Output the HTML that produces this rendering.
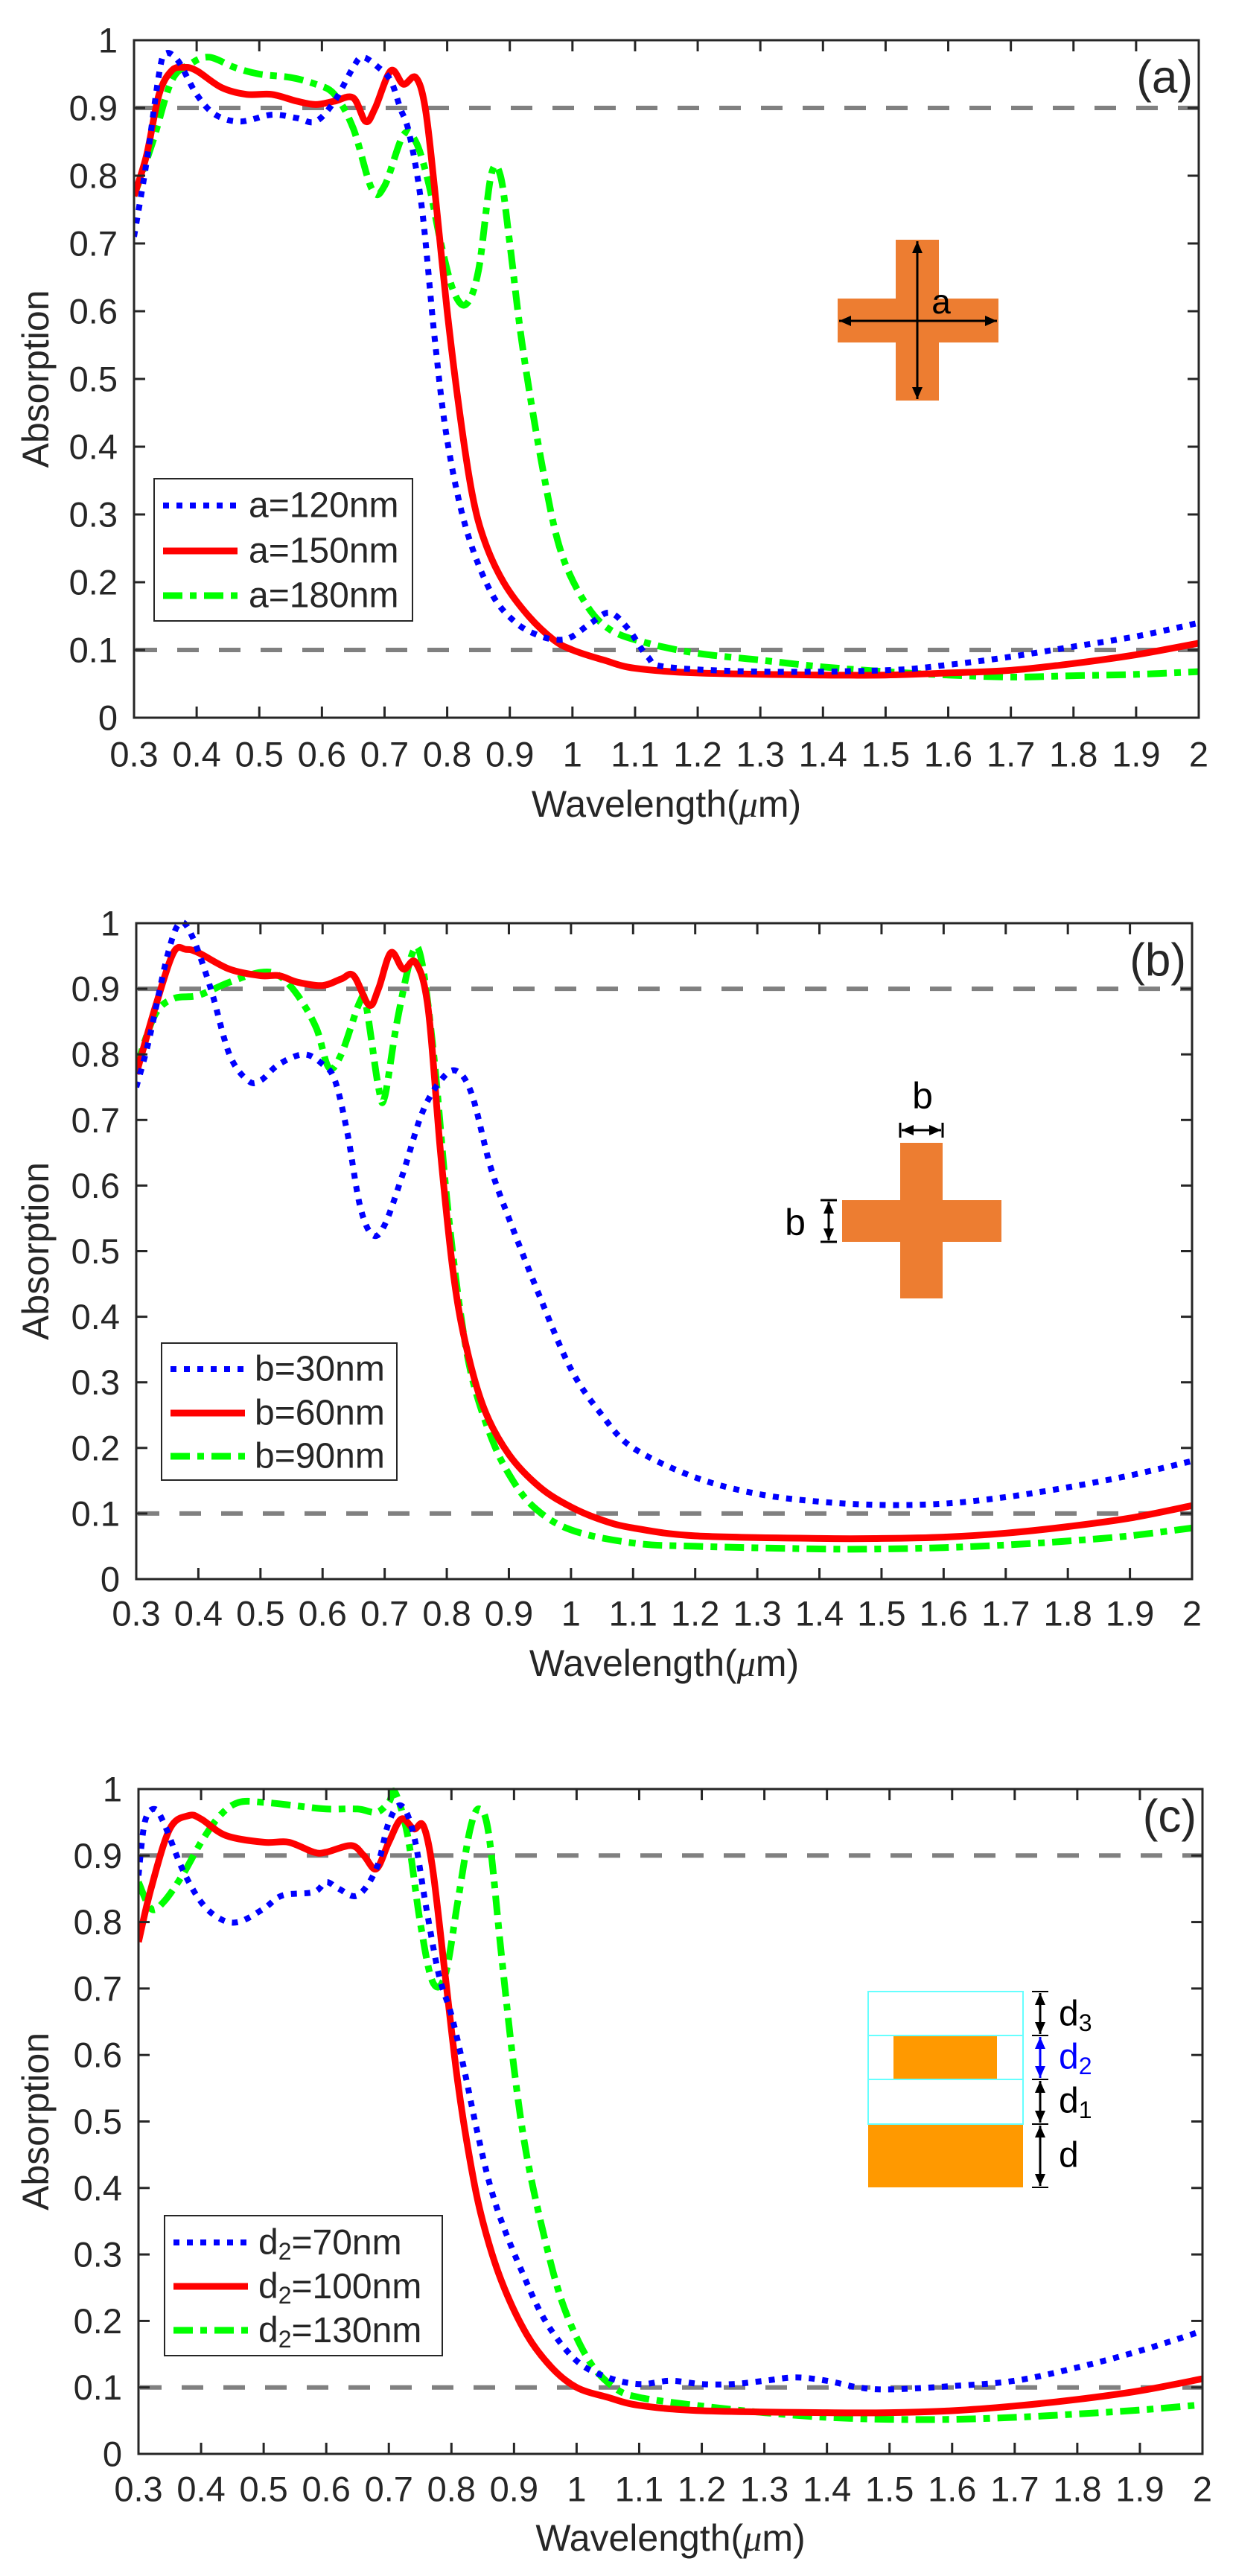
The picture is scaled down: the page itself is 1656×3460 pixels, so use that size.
<!DOCTYPE html>
<html><head><meta charset="utf-8"><style>
html,body{margin:0;padding:0;background:#fff;}
svg{display:block;}
text{font-family:"Liberation Sans",Arial,sans-serif;fill:#262626;}
</style></head><body>
<svg id="s" width="1656" height="3460" viewBox="0 0 1656 3460" xmlns="http://www.w3.org/2000/svg"></svg>
<script>
const S=document.getElementById('s');
let out='';
function crPath(pts){
  let d='M'+pts[0][0].toFixed(1)+','+pts[0][1].toFixed(1);
  for(let i=0;i<pts.length-1;i++){
    const p0=pts[Math.max(0,i-1)],p1=pts[i],p2=pts[i+1],p3=pts[Math.min(pts.length-1,i+2)];
    const c1=[p1[0]+(p2[0]-p0[0])/6,p1[1]+(p2[1]-p0[1])/6];
    const c2=[p2[0]-(p3[0]-p1[0])/6,p2[1]-(p3[1]-p1[1])/6];
    d+=' C'+c1[0].toFixed(1)+','+c1[1].toFixed(1)+' '+c2[0].toFixed(1)+','+c2[1].toFixed(1)+' '+p2[0].toFixed(1)+','+p2[1].toFixed(1);
  }
  return d;
}
const styles={
 b:'stroke="#0000ff" stroke-width="8" fill="none" stroke-dasharray="8 10"',
 r:'stroke="#ff0000" stroke-width="9" fill="none" stroke-linejoin="round"',
 g:'stroke="#00ff00" stroke-width="9" fill="none" stroke-dasharray="26 10 9 10"'
};
function panel(P){
  const {L,R,T,B}=P;
  const X=v=>L+(v-0.3)/1.7*(R-L), Y=v=>B-v*(B-T);
  let o='';
  [0.9,0.1].forEach(v=>{o+=`<line x1="${L+2}" x2="${R}" y1="${Y(v)}" y2="${Y(v)}" stroke="#808080" stroke-width="6" stroke-dasharray="29 27"/>`;});
  o+=`<clipPath id="c${P.id}"><rect x="${L}" y="${T-15}" width="${R-L}" height="${B-T+15}"/></clipPath>`;
  o+=`<g clip-path="url(#c${P.id})">`;
  ['g','r','b'].forEach(k=>{ if(P[k]) o+=`<path d="${crPath(P[k].map(p=>[X(p[0]),Y(p[1])]))}" ${styles[k]}/>`; });
  o+='</g>';
  o+=`<rect x="${L}" y="${T}" width="${R-L}" height="${B-T}" fill="none" stroke="#262626" stroke-width="3"/>`;
  for(let i=0;i<=17;i++){const x=L+i*(R-L)/17;
    o+=`<line x1="${x}" x2="${x}" y1="${B}" y2="${B-15}" stroke="#262626" stroke-width="3"/><line x1="${x}" x2="${x}" y1="${T}" y2="${T+15}" stroke="#262626" stroke-width="3"/>`;
    const v=(0.3+i*0.1); let lab=(Math.round(v*10)/10).toString();
    o+=`<text x="${x}" y="${P.xl}" font-size="47" text-anchor="middle" dominant-baseline="central">${lab}</text>`;
  }
  for(let i=0;i<=10;i++){const y=B-i*(B-T)/10;
    o+=`<line x1="${L}" x2="${L+15}" y1="${y}" y2="${y}" stroke="#262626" stroke-width="3"/><line x1="${R}" x2="${R-15}" y1="${y}" y2="${y}" stroke="#262626" stroke-width="3"/>`;
    let lab=i==0?'0':i==10?'1':'0.'+i;
    o+=`<text x="${L-22}" y="${y}" font-size="47" text-anchor="end" dominant-baseline="central">${lab}</text>`;
  }
  o+=`<text x="${(L+R)/2}" y="${P.xt}" font-size="50" text-anchor="middle" dominant-baseline="central">Wavelength(<tspan font-family="Liberation Serif" font-style="italic">μ</tspan>m)</text>`;
  o+=`<text transform="translate(48,${(T+B)/2}) rotate(-90)" font-size="50" text-anchor="middle" dominant-baseline="central">Absorption</text>`;
  o+=`<text x="${R-8}" y="${P.pl}" font-size="62" text-anchor="end" dominant-baseline="central">${P.lab}</text>`;
  const lg=P.lg;
  o+=`<rect x="${lg.x1}" y="${lg.y1}" width="${lg.x2-lg.x1}" height="${lg.y2-lg.y1}" fill="#fff" stroke="#262626" stroke-width="2"/>`;
  ['b','r','g'].forEach((k,i)=>{const y=lg.rows[i];
    o+=`<line x1="${lg.x1+12}" x2="${lg.x1+112}" y1="${y}" y2="${y}" ${styles[k]}/>`;
    o+=`<text x="${lg.tx}" y="${y}" font-size="48" dominant-baseline="central">${lg.t[i]}</text>`;});
  return o;
}
const A={id:'a',L:180,R:1610,T:54,B:964,xl:1013,xt:1080,pl:104,lab:'(a)',
 lg:{x1:207,x2:554,y1:643,y2:834,rows:[679,740,800],tx:334,t:['a=120nm','a=150nm','a=180nm']},
 b:[[0.3,0.71],[0.32,0.82],[0.34,0.95],[0.35,0.98],[0.37,0.97],[0.40,0.92],[0.43,0.89],[0.47,0.88],[0.52,0.89],[0.56,0.885],[0.59,0.88],[0.62,0.91],[0.65,0.96],[0.665,0.975],[0.69,0.96],[0.71,0.94],[0.725,0.90],[0.74,0.86],[0.76,0.75],[0.78,0.56],[0.80,0.41],[0.83,0.28],[0.87,0.185],[0.91,0.14],[0.95,0.12],[0.98,0.115],[1.0,0.12],[1.03,0.14],[1.06,0.155],[1.09,0.13],[1.12,0.09],[1.15,0.075],[1.3,0.068],[1.5,0.07],[1.6,0.078],[1.7,0.09],[1.8,0.105],[1.9,0.12],[2.0,0.14]],
 r:[[0.3,0.77],[0.32,0.83],[0.34,0.92],[0.36,0.955],[0.38,0.96],[0.40,0.955],[0.44,0.93],[0.48,0.92],[0.52,0.92],[0.56,0.91],[0.59,0.905],[0.62,0.91],[0.65,0.915],[0.67,0.88],[0.685,0.90],[0.71,0.955],[0.73,0.935],[0.75,0.945],[0.765,0.90],[0.78,0.78],[0.80,0.60],[0.82,0.45],[0.84,0.33],[0.86,0.26],[0.89,0.2],[0.93,0.15],[0.97,0.115],[1.0,0.10],[1.05,0.085],[1.1,0.073],[1.2,0.066],[1.4,0.063],[1.5,0.063],[1.6,0.066],[1.7,0.07],[1.8,0.08],[1.9,0.093],[2.0,0.11]],
 g:[[0.3,0.77],[0.33,0.85],[0.36,0.94],[0.39,0.965],[0.42,0.975],[0.46,0.96],[0.5,0.95],[0.55,0.945],[0.59,0.935],[0.62,0.92],[0.65,0.87],[0.68,0.78],[0.70,0.785],[0.73,0.86],[0.75,0.85],[0.77,0.79],[0.79,0.70],[0.81,0.63],[0.83,0.61],[0.85,0.66],[0.87,0.80],[0.885,0.80],[0.90,0.70],[0.92,0.55],[0.95,0.38],[0.98,0.25],[1.02,0.17],[1.06,0.13],[1.12,0.11],[1.2,0.095],[1.3,0.085],[1.4,0.075],[1.5,0.068],[1.6,0.063],[1.7,0.06],[1.8,0.062],[1.9,0.064],[2.0,0.068]]};
const Bp={id:'b',L:183,R:1601,T:1240,B:2121,xl:2167,xt:2234,pl:1290,lab:'(b)',
 lg:{x1:217,x2:533,y1:1804,y2:1988,rows:[1839,1898,1956],tx:342,t:['b=30nm','b=60nm','b=90nm']},
 b:[[0.3,0.75],[0.32,0.82],[0.35,0.95],[0.37,1.0],[0.39,0.98],[0.42,0.90],[0.45,0.80],[0.48,0.76],[0.5,0.76],[0.53,0.785],[0.57,0.80],[0.6,0.785],[0.62,0.76],[0.64,0.68],[0.66,0.57],[0.68,0.525],[0.70,0.54],[0.73,0.62],[0.76,0.71],[0.79,0.76],[0.815,0.775],[0.84,0.74],[0.87,0.63],[0.9,0.55],[0.95,0.43],[1.0,0.32],[1.05,0.25],[1.1,0.2],[1.2,0.155],[1.3,0.13],[1.4,0.118],[1.5,0.113],[1.6,0.115],[1.7,0.125],[1.8,0.14],[1.9,0.158],[2.0,0.18]],
 r:[[0.3,0.77],[0.33,0.87],[0.36,0.955],[0.38,0.96],[0.4,0.955],[0.45,0.93],[0.5,0.92],[0.53,0.92],[0.56,0.91],[0.6,0.905],[0.63,0.915],[0.65,0.92],[0.675,0.875],[0.69,0.90],[0.71,0.955],[0.73,0.93],[0.75,0.94],[0.77,0.87],[0.79,0.65],[0.81,0.47],[0.83,0.36],[0.86,0.26],[0.9,0.19],[0.95,0.14],[1.0,0.11],[1.05,0.09],[1.1,0.078],[1.2,0.066],[1.4,0.062],[1.5,0.062],[1.6,0.064],[1.7,0.07],[1.8,0.08],[1.9,0.093],[2.0,0.112]],
 g:[[0.3,0.78],[0.33,0.86],[0.36,0.885],[0.4,0.89],[0.45,0.91],[0.5,0.925],[0.53,0.92],[0.56,0.89],[0.59,0.84],[0.61,0.78],[0.63,0.80],[0.66,0.88],[0.67,0.875],[0.69,0.75],[0.70,0.735],[0.72,0.85],[0.745,0.955],[0.76,0.94],[0.78,0.79],[0.80,0.58],[0.82,0.42],[0.84,0.31],[0.87,0.22],[0.9,0.16],[0.94,0.11],[1.0,0.075],[1.1,0.055],[1.2,0.05],[1.4,0.046],[1.5,0.046],[1.6,0.048],[1.7,0.052],[1.8,0.058],[1.9,0.066],[2.0,0.078]]};
const C={id:'c',L:186,R:1615,T:2403,B:3296,xl:3343,xt:3409,pl:2440,lab:'(c)',
 lg:{x1:221,x2:594,y1:2976,y2:3164,rows:[3012,3071,3130],tx:347,t:['d<tspan font-size="32" dy="12">2</tspan><tspan dy="-12">=70nm</tspan>','d<tspan font-size="32" dy="12">2</tspan><tspan dy="-12">=100nm</tspan>','d<tspan font-size="32" dy="12">2</tspan><tspan dy="-12">=130nm</tspan>']},
 b:[[0.3,0.87],[0.31,0.95],[0.325,0.97],[0.34,0.95],[0.37,0.88],[0.4,0.83],[0.43,0.805],[0.46,0.80],[0.5,0.82],[0.53,0.84],[0.58,0.845],[0.6,0.86],[0.62,0.85],[0.65,0.84],[0.68,0.88],[0.70,0.95],[0.72,0.975],[0.74,0.93],[0.76,0.82],[0.78,0.72],[0.80,0.66],[0.82,0.58],[0.84,0.49],[0.86,0.41],[0.88,0.35],[0.91,0.28],[0.95,0.2],[1.0,0.14],[1.05,0.115],[1.1,0.105],[1.15,0.11],[1.2,0.105],[1.25,0.105],[1.3,0.11],[1.35,0.115],[1.4,0.11],[1.45,0.1],[1.5,0.097],[1.6,0.102],[1.7,0.11],[1.8,0.13],[1.9,0.155],[2.0,0.185]],
 r:[[0.3,0.77],[0.32,0.85],[0.35,0.94],[0.38,0.96],[0.4,0.955],[0.44,0.93],[0.5,0.92],[0.54,0.92],[0.58,0.905],[0.6,0.905],[0.64,0.915],[0.66,0.9],[0.68,0.88],[0.7,0.92],[0.72,0.955],[0.74,0.94],[0.755,0.945],[0.77,0.88],[0.79,0.72],[0.81,0.56],[0.83,0.44],[0.85,0.35],[0.88,0.26],[0.92,0.18],[0.96,0.13],[1.0,0.10],[1.05,0.085],[1.1,0.073],[1.2,0.065],[1.4,0.062],[1.5,0.062],[1.6,0.065],[1.7,0.072],[1.8,0.082],[1.9,0.095],[2.0,0.113]],
 g:[[0.3,0.86],[0.32,0.82],[0.34,0.83],[0.37,0.87],[0.4,0.92],[0.43,0.96],[0.46,0.98],[0.5,0.98],[0.55,0.975],[0.6,0.97],[0.65,0.97],[0.68,0.965],[0.7,0.98],[0.71,0.995],[0.73,0.93],[0.75,0.80],[0.77,0.71],[0.79,0.72],[0.81,0.83],[0.83,0.94],[0.845,0.97],[0.86,0.93],[0.88,0.75],[0.9,0.58],[0.92,0.45],[0.95,0.32],[0.98,0.22],[1.02,0.14],[1.06,0.1],[1.1,0.085],[1.2,0.072],[1.3,0.062],[1.4,0.055],[1.5,0.052],[1.6,0.052],[1.7,0.055],[1.8,0.06],[1.9,0.066],[2.0,0.074]]};
out+=panel(A)+panel(Bp)+panel(C);
function arr(x1,y1,x2,y2,col,w){col=col||'#000';w=w||3;
  const a=Math.atan2(y2-y1,x2-x1),L=16,W=7;
  const head=(x,y,ang)=>{const bx=x-L*Math.cos(ang),by=y-L*Math.sin(ang);
    return `<polygon points="${x},${y} ${bx-W*Math.sin(ang)},${by+W*Math.cos(ang)} ${bx+W*Math.sin(ang)},${by-W*Math.cos(ang)}" fill="${col}"/>`;};
  return `<line x1="${x1}" y1="${y1}" x2="${x2}" y2="${y2}" stroke="${col}" stroke-width="${w}"/>`+head(x2,y2,a)+head(x1,y1,a+Math.PI);}
const OR='#ED7D31';
out+=`<rect x="1203" y="322" width="58" height="216" fill="${OR}"/><rect x="1125" y="401" width="216" height="59" fill="${OR}"/>`;
out+=arr(1232,324,1232,536)+arr(1127,431,1339,431);
out+=`<text x="1264" y="405" font-size="46" text-anchor="middle" dominant-baseline="central" style="fill:#000">a</text>`;
out+=`<rect x="1209" y="1535" width="57" height="209" fill="${OR}"/><rect x="1131" y="1612" width="214" height="56" fill="${OR}"/>`;
out+=arr(1211,1518,1264,1518)+`<line x1="1209" x2="1209" y1="1508" y2="1528" stroke="#000" stroke-width="3"/><line x1="1266" x2="1266" y1="1508" y2="1528" stroke="#000" stroke-width="3"/>`;
out+=arr(1113,1614,1113,1666)+`<line x1="1102" x2="1124" y1="1612" y2="1612" stroke="#000" stroke-width="3"/><line x1="1102" x2="1124" y1="1668" y2="1668" stroke="#000" stroke-width="3"/>`;
out+=`<text x="1239" y="1472" font-size="50" text-anchor="middle" dominant-baseline="central" style="fill:#000">b</text><text x="1068" y="1642" font-size="50" text-anchor="middle" dominant-baseline="central" style="fill:#000">b</text>`;
out+=`<rect x="1166" y="2853" width="208" height="85" fill="#FF9900"/><rect x="1200" y="2734" width="139" height="59" fill="#FF9900"/>`;
out+=`<g fill="none" stroke="#66ffff" stroke-width="2"><rect x="1166" y="2675" width="208" height="59"/><rect x="1166" y="2734" width="208" height="59"/><rect x="1166" y="2793" width="208" height="60"/></g>`;
out+=arr(1397,2677,1397,2732)+arr(1397,2736,1397,2791,'#0000ff')+arr(1397,2795,1397,2851)+arr(1397,2855,1397,2936);
[2675,2734,2793,2853,2938].forEach(y=>{out+=`<line x1="1386" x2="1408" y1="${y}" y2="${y}" stroke="#000" stroke-width="2"/>`;});
const dl=(y,sub,col)=>`<text x="1422" y="${y}" font-size="48" dominant-baseline="central" style="fill:${col}">d<tspan font-size="32" dy="12" style="fill:${col}">${sub}</tspan></text>`;
out+=dl(2705,'3','#000')+dl(2763,'2','#0000ff')+dl(2822,'1','#000')+`<text x="1422" y="2895" font-size="48" dominant-baseline="central" style="fill:#000">d</text>`;
S.innerHTML=out;
</script>
</body></html>
